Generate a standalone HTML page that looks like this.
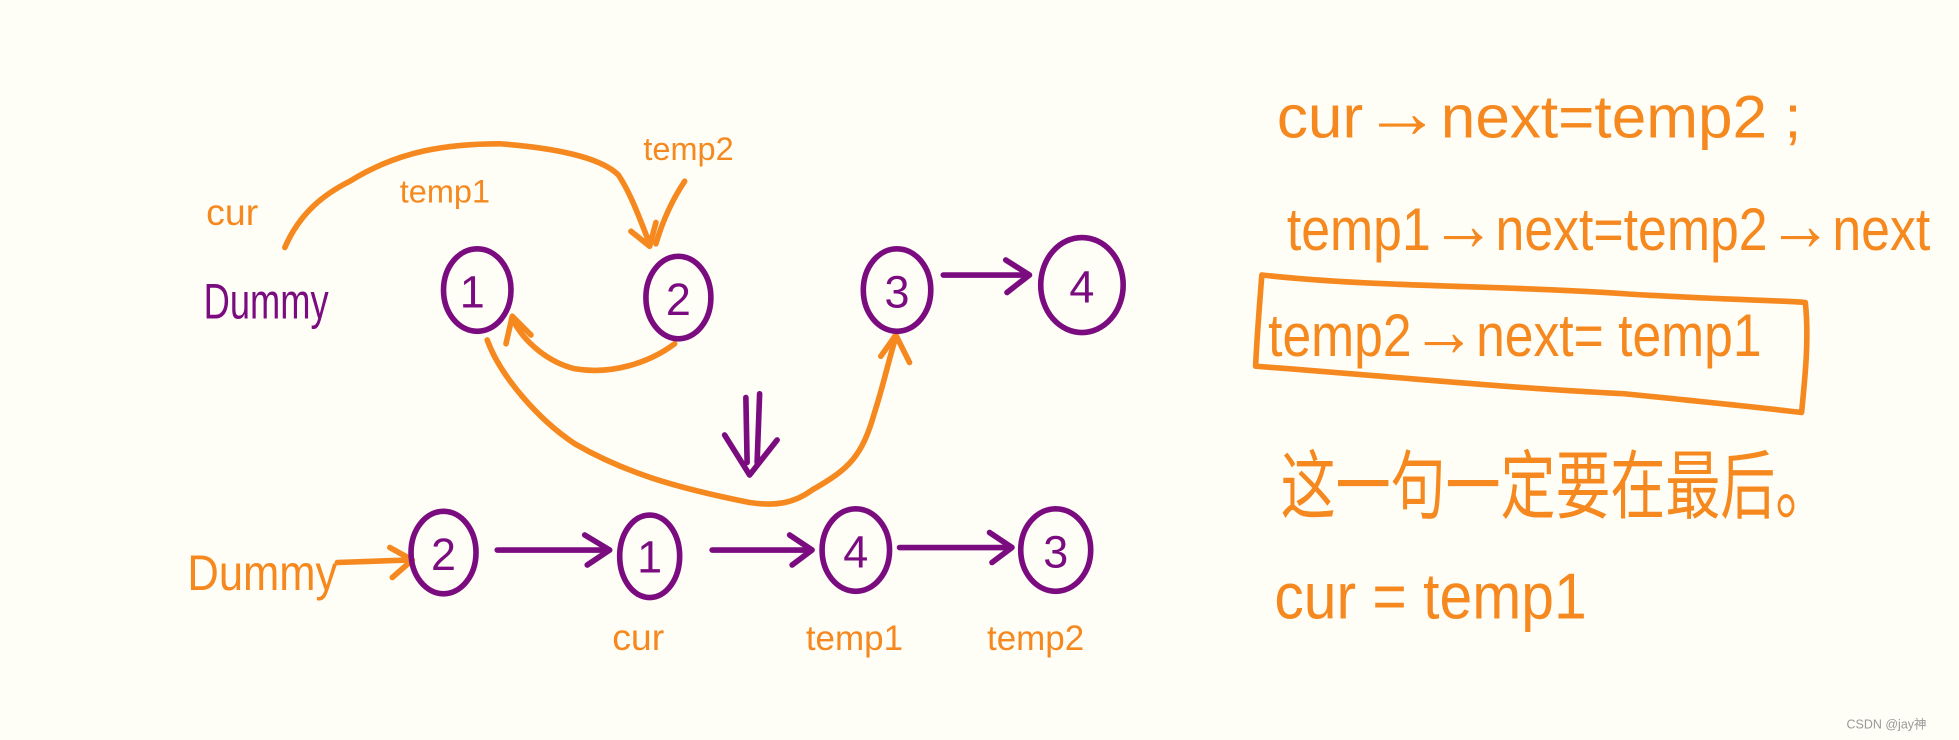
<!DOCTYPE html>
<html><head><meta charset="utf-8"><style>
html,body{margin:0;padding:0;background:#fffef6;}
svg{display:block}
text{font-family:"Liberation Sans","Noto Sans CJK SC",sans-serif;}
</style></head><body>
<svg width="1959" height="740" viewBox="0 0 1568 592" preserveAspectRatio="none" xmlns="http://www.w3.org/2000/svg">
<rect width="1568" height="592" fill="#fffef6"/>
<g fill="none" stroke="#f5891f" stroke-width="4.5" stroke-linecap="round" stroke-linejoin="round">
<path d="M228,198 C240,170 260,155 280,145 C320,120 360,115 400,115 C440,118 480,125 495,140 C505,155 512,175 520,195"/>
<path d="M505,185 L520,197 L525,178"/>
<path d="M548,145 C538,160 530,178 525,195"/>
<path d="M540,275 C520,290 490,300 460,295 C440,290 420,275 410,255"/>
<path d="M405,275 L410,253 L425,268"/>
<path d="M390,272 C400,300 430,335 460,355 C500,378 540,390 600,402 C620,405 635,403 650,392 C680,375 690,365 700,330 C708,305 712,285 717,270"/>
<path d="M705,285 L717,268 L728,290"/>
<path d="M270,450 L328,448"/><path d="M312,438 L330,448 L314,462"/>
<path d="M1010,220 C1100,230 1200,228 1300,235 C1380,240 1420,240 1445,242 C1448,270 1445,300 1442,330 C1400,325 1350,320 1300,315 C1200,310 1100,300 1005,293 C1006,270 1008,245 1010,220 Z"/>
</g>
<g fill="none" stroke="#7b0c80" stroke-width="4.5" stroke-linecap="round" stroke-linejoin="round">
<ellipse cx="382" cy="232" rx="27" ry="33"/>
<ellipse cx="543" cy="238" rx="26" ry="33"/>
<ellipse cx="718" cy="232" rx="27" ry="33"/>
<ellipse cx="866" cy="228" rx="33" ry="38"/>
<path d="M755,220 L822,220"/><path d="M805,208 L824,220 L806,234"/>
<ellipse cx="355" cy="442" rx="26" ry="33"/>
<ellipse cx="520" cy="445" rx="24" ry="33"/>
<ellipse cx="685" cy="440" rx="27" ry="33"/>
<ellipse cx="845" cy="440" rx="28" ry="33"/>
<path d="M398,440 L485,440"/><path d="M468,428 L488,440 L470,452"/>
<path d="M570,440 L648,440"/><path d="M632,428 L650,440 L634,452"/>
<path d="M720,438 L808,438"/><path d="M792,426 L810,438 L794,450"/>
<path d="M597,318 L598,370 M608,315 L606,370 M580,348 L600,380 L622,352"/>
</g>
<g fill="#7b0c80" font-size="36">
<text x="378" y="246" text-anchor="middle">1</text>
<text x="543" y="252" text-anchor="middle">2</text>
<text x="718" y="246" text-anchor="middle">3</text>
<text x="866" y="242" text-anchor="middle">4</text>
<text x="355" y="456" text-anchor="middle">2</text>
<text x="520" y="458" text-anchor="middle">1</text>
<text x="685" y="454" text-anchor="middle">4</text>
<text x="845" y="454" text-anchor="middle">3</text>
<text x="163" y="255" font-size="40" textLength="100" lengthAdjust="spacingAndGlyphs">Dummy</text>
</g>
<g fill="#f5891f">
<text x="165" y="180" font-size="30">cur</text>
<text x="320" y="162" font-size="26">temp1</text>
<text x="515" y="128" font-size="26">temp2</text>
<text x="150" y="472" font-size="40" textLength="120" lengthAdjust="spacingAndGlyphs">Dummy</text>
<text x="490" y="520" font-size="30">cur</text>
<text x="645" y="520" font-size="28">temp1</text>
<text x="790" y="520" font-size="28">temp2</text>
<text x="1022" y="110" font-size="48" textLength="420" lengthAdjust="spacingAndGlyphs">cur<tspan font-size="60">→</tspan>next=temp2 ;</text>
<text x="1030" y="200" font-size="48" textLength="515" lengthAdjust="spacingAndGlyphs">temp1<tspan font-size="60">→</tspan>next=temp2<tspan font-size="60">→</tspan>next</text>
<text x="1015" y="285" font-size="48" textLength="395" lengthAdjust="spacingAndGlyphs">temp2<tspan font-size="60">→</tspan>next= temp1</text>
<text x="1025" y="410" font-size="60" textLength="440" lengthAdjust="spacingAndGlyphs">这一句一定要在最后。</text>
<text x="1020" y="495" font-size="52" textLength="250" lengthAdjust="spacingAndGlyphs">cur = temp1</text>
</g>
<text x="1478" y="583" font-size="10" fill="#999">CSDN @jay神</text>
</svg>
</body></html>
